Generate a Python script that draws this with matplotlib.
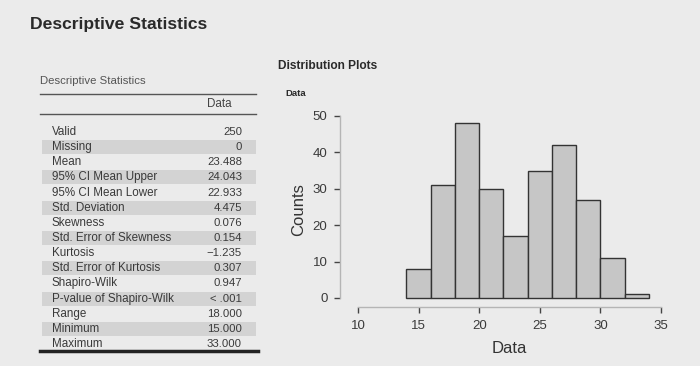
import numpy as np
import matplotlib
matplotlib.use("Agg")
import matplotlib.pyplot as plt

plt.rcParams['font.family'] = ['Liberation Sans', 'DejaVu Sans']

# ---------- data ----------
stat_names = ["Valid", "Missing", "Mean", "95% CI Mean Upper", "95% CI Mean Lower",
              "Std. Deviation", "Skewness", "Std. Error of Skewness", "Kurtosis",
              "Std. Error of Kurtosis", "Shapiro-Wilk", "P-value of Shapiro-Wilk",
              "Range", "Minimum", "Maximum"]
stat_values = ["250", "0", "23.488", "24.043", "22.933", "4.475", "0.076", "0.154",
               "\u22121.235", "0.307", "0.947", "< .001", "18.000", "15.000", "33.000"]

bin_edges = [14, 16, 18, 20, 22, 24, 26, 28, 30, 32, 34]
bin_counts = [8, 31, 48, 30, 17, 35, 42, 27, 11, 1]
x_ticks = [10, 15, 20, 25, 30, 35]
y_ticks = [0, 10, 20, 30, 40, 50]

W, H = 700, 366
bg = '#ebebeb'
fig = plt.figure(figsize=(W / 100, H / 100), dpi=100, facecolor=bg)

# ---------- table (pixel coordinates) ----------
tab = fig.add_axes([0, 0, 1, 1])
tab.set_xlim(0, W)
tab.set_ylim(H, 0)
tab.axis('off')

tab.text(30, 25, "Descriptive Statistics", fontsize=12.6, fontweight='bold',
         color='#2a2a2a', va='center', ha='left')
tab.text(40, 81, "Descriptive Statistics", fontsize=8.2, color='#555555',
         va='center', ha='left')
tab.plot([40, 256], [94, 94], color='#555555', lw=1)
tab.text(232, 104, "Data", fontsize=8.4, color='#444444', va='center', ha='right')
tab.plot([40, 256], [114, 114], color='#555555', lw=1)

row0, step = 132, 15.14
for i, (name, val) in enumerate(zip(stat_names, stat_values)):
    y = row0 + i * step
    if i % 2 == 1:
        tab.fill_between([42, 256], y - 7, y + 7, color='#d3d3d3', lw=0)
    tab.text(52, y, name, fontsize=8.4, color='#3a3a3a', va='center', ha='left')
    tab.text(242, y, val, fontsize=8.2, color='#3a3a3a', va='center', ha='right')
tab.plot([40, 258], [351, 351], color='#222222', lw=2.5)

tab.text(278, 66, "Distribution Plots", fontsize=8.6, fontweight='bold',
         color='#2a2a2a', va='center', ha='left')
tab.text(285, 93, "Data", fontsize=6.8, fontweight='bold',
         color='#2a2a2a', va='center', ha='left')

# ---------- histogram ----------
left, right, top, bottom = 358, 661, 116, 298
ax = fig.add_axes([left / W, (H - bottom) / H, (right - left) / W, (bottom - top) / H])
ax.set_facecolor('none')
ax.bar(bin_edges[:-1], bin_counts, width=np.diff(bin_edges), align='edge',
       color='#c6c6c6', edgecolor='#333333', linewidth=1.0, clip_on=False)
ax.set_xlim(10, 35)
ax.set_ylim(0, 50)
ax.set_xticks(x_ticks)
ax.set_yticks(y_ticks)

for s in ['top', 'right']:
    ax.spines[s].set_visible(False)
ax.spines['left'].set_bounds(0, 50)
ax.spines['bottom'].set_bounds(10, 35)
ax.spines['left'].set_position(('outward', 13))
ax.spines['bottom'].set_position(('outward', 6.5))
for s in ['left', 'bottom']:
    ax.spines[s].set_color('#b5b5b5')
    ax.spines[s].set_linewidth(1)
ax.tick_params(axis='both', colors='#444444', length=4, width=1,
               labelsize=9.5, labelcolor='#3a3a3a')
ax.tick_params(axis='x', pad=5)
ax.tick_params(axis='y', pad=5)

ax.set_xlabel("Data", fontsize=12, color='#333333')
ax.xaxis.set_label_coords(0.498, -0.235)
ax.set_ylabel("Counts", fontsize=12, color='#333333')
ax.yaxis.set_label_coords(-0.17, 0.484)

fig.savefig("out.png", dpi=100, facecolor=bg)
